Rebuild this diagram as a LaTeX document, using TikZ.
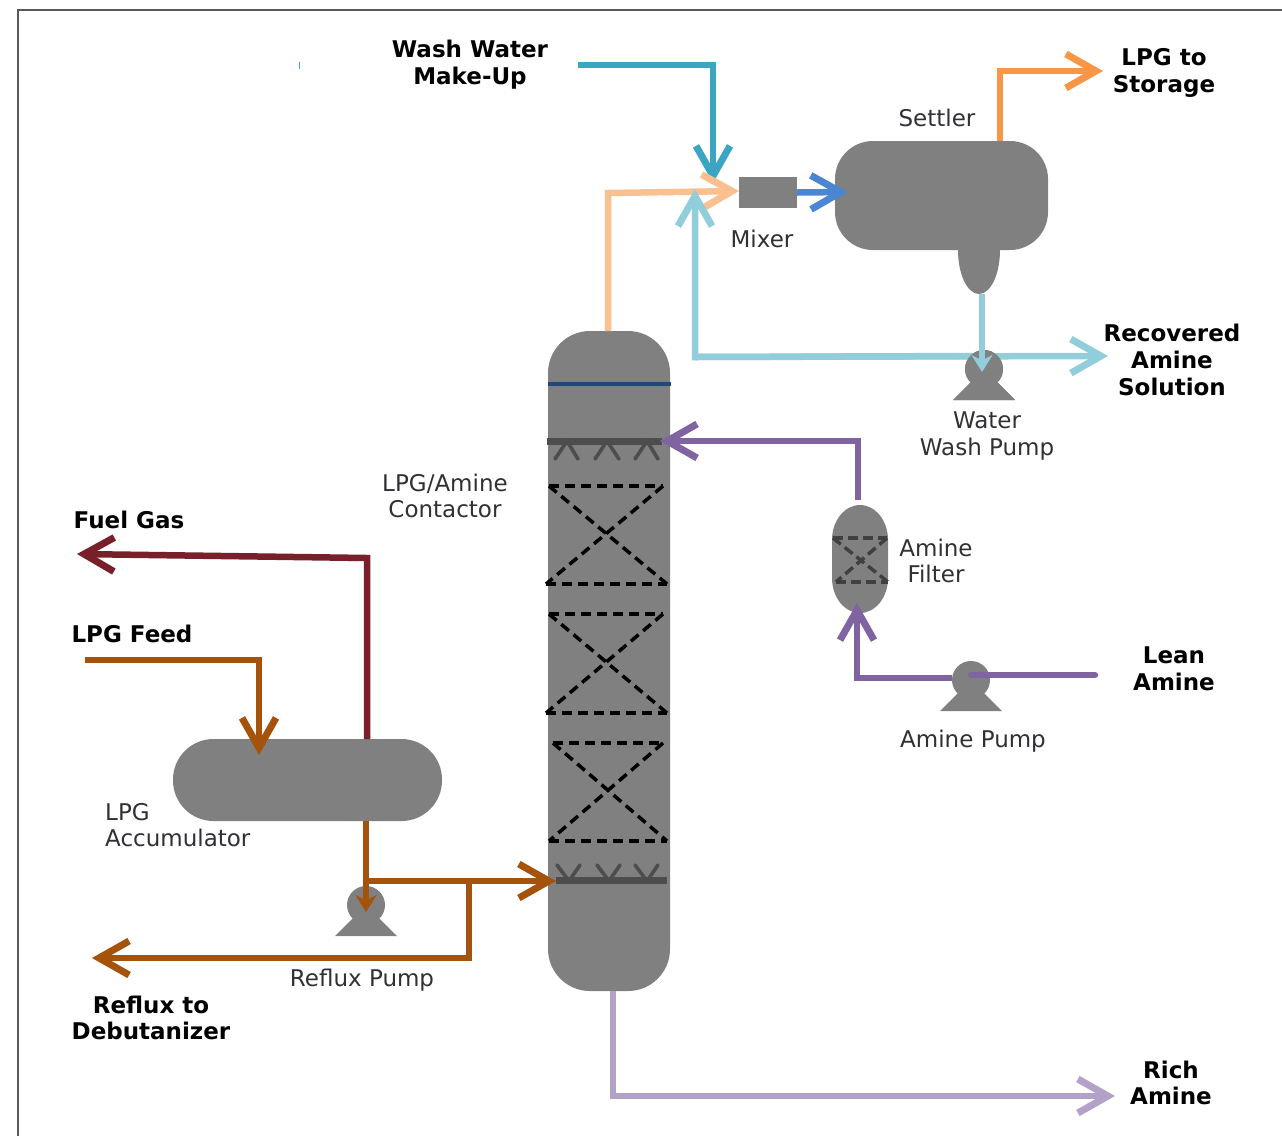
\documentclass[tikz,border=0pt]{standalone}
\usepackage{fontspec}
\setmainfont{DejaVu Sans}
\usetikzlibrary{arrows.meta,calc,shapes.geometric}
\definecolor{vesselgray}{HTML}{808080}
\definecolor{bargray}{HTML}{4D4D4D}
\definecolor{washc}{HTML}{3BA5C4}
\definecolor{peachc}{HTML}{FAC090}
\definecolor{skyc}{HTML}{92CDDC}
\definecolor{bluec}{HTML}{4A86D4}
\definecolor{orangec}{HTML}{F79646}
\definecolor{richc}{HTML}{B3A2C7}
\definecolor{leanc}{HTML}{8064A2}
\definecolor{fuelc}{HTML}{77202A}
\definecolor{feedc}{HTML}{A5520A}
\definecolor{labelc}{HTML}{303035}
\tikzset{
  vessel/.style={fill=vesselgray,draw=none,inner sep=0pt,outer sep=0pt},
  pipe/.style={line width=6.5pt,line join=miter,draw=#1},
  flow/.style={pipe=#1,-{Straight Barb[length=30pt,width=34pt,line width=7pt]}},
  solidflow/.style={pipe=#1,-{Stealth[length=17pt,width=21pt]}},
  eqlabel/.style={font=\fontsize{23}{26.5}\selectfont,text=labelc,align=center,inner sep=0pt},
  stream/.style={font=\fontsize{23}{26.8}\selectfont\bfseries,text=black,align=center,inner sep=0pt},
  packing/.style={dash pattern=on 10pt off 6pt,line width=3.5pt,black},
  bar/.style={line width=7pt,bargray},
  spray/.style={line width=3.6pt,bargray,line cap=round},
}
\newcommand{\pumpbase}[1]{%
  \fill[vesselgray] ($(#1.center)+(-8,8)$) -- ($(#1.center)+(8,8)$) -- ($(#1.center)+(31,31)$) -- ($(#1.center)+(-31,31)$) -- cycle;
}
\newcommand{\pumpshape}[3]{% name, x, y of circle centre
  \node[vessel,circle,minimum size=38pt] (#1) at (#2,#3) {};
  \pumpbase{#1}
}
\newcommand{\xpack}[6]{% x tl, x tr, x bl, x br, y top, y bot
  \draw[packing] (#1,#5) -- (#2,#5);
  \draw[packing] (#2,#5) -- (#3,#6);
  \draw[packing] (#3,#6) -- (#4,#6);
  \draw[packing] (#1,#5) -- (#4,#6);
}
\begin{document}
\begin{tikzpicture}[x=1pt,y=-1pt]
\useasboundingbox (0,0) rectangle (1282,1136);
\fill[white] (0,0) rectangle (1282,1136);
\draw[line width=1.5pt,black!65] (18,1136) -- (18,10) -- (1282,10);
\fill[washc] (298.5,62) rectangle (300,69);

% equipment
\node[vessel,rectangle,rounded corners=42pt,minimum width=122pt,minimum height=660pt] (col) at (609,661) {};
\node[vessel,rectangle,rounded corners=38pt,minimum width=213pt,minimum height=109pt] (settler) at (941.5,195.5) {};
\node[vessel,ellipse,minimum width=42pt,minimum height=88pt] (boot) at (979,250) {};
\node[vessel,rectangle,minimum width=58pt,minimum height=31pt] (mixer) at (768,192.5) {};
\node[vessel,rectangle,rounded corners=40.5pt,minimum width=269pt,minimum height=82pt] (accum) at (307.5,780) {};
\node[inner sep=0pt,outer sep=0pt,rectangle,minimum width=56pt,minimum height=108pt] (filter) at (860,559) {};
\fill[vesselgray] (832,540) arc[start angle=180,end angle=0,x radius=28pt,y radius=35pt] -- (888,578) arc[start angle=0,end angle=-180,x radius=28pt,y radius=35pt] -- cycle;
\pumpshape{rpump}{366}{905}
\pumpshape{apump}{971}{680}
\pumpshape{wpump}{984}{369}

% column internals
\draw[line width=3.5pt,draw={rgb,255:red,31;green,73;blue,125}] (col.west |- 0,384) -- (671,384);
\foreach \a/\b/\c in {555/567/578,595/607/619,635/647/658}{
  \draw[spray] (\a,459) -- (\b,441) -- (\c,459);
}
\draw[bar] (547,441) -- (662,441);
\xpack{549}{663}{546}{667}{486}{584}
\xpack{549}{663}{546}{667}{614}{713}
\xpack{553}{663}{549}{667}{743}{841}
\foreach \a/\b/\c in {557/569/580,597/609/620,635/647/658}{
  \draw[spray] (\a,865) -- (\b,881) -- (\c,865);
}
\draw[bar] (556,880.5) -- (667,880.5);
% filter internals
\begin{scope}[dash pattern=on 10pt off 5pt,line width=3.5pt,black!75]
\draw (833,538) -- (887,538);
\draw (887,538) -- (836,582);
\draw (836,582) -- (888,582);
\draw (833,538) -- (888,582);
\end{scope}

% named free ends
\coordinate (washin) at (578,65);
\coordinate (washend) at (713,183);
\coordinate (peachmid) at (608,193);
\coordinate (peachend) at (739,191);
\coordinate (skytop) at (695,189);
\coordinate (skycorner) at (695,357);
\coordinate (recout) at (1108,356);
\coordinate (wpumpend) at (982,372);
\coordinate (lpgout) at (1103,71);
\coordinate (settlerin) at (848,192);
\coordinate (richcorner) at (613,1096);
\coordinate (richout) at (1115,1096);
\coordinate (leanin) at (1095,675);
\coordinate (filterin) at (857,603);
\coordinate (sprayin) at (660,441);
\coordinate (fueltop) at (367,558);
\coordinate (fuelout) at (77,554);
\coordinate (feedin) at (85,660);
\coordinate (feedend) at (259,755);
\coordinate (refluxtee) at (469,881);
\coordinate (refluxout) at (92,958);
\coordinate (colfeed) at (556,881);
\coordinate (rpumpend) at (366,912);

% connectors
\draw[flow=washc] (washin) -| (washend);
\draw[flow=peachc] (col.north -| peachmid) -- (peachmid) -- (peachend);
\draw[flow=skyc] (recout -| wpump) -- (skycorner) -- (skytop);
\draw[flow=skyc] (skycorner) -- (recout);
\fill[vesselgray] (wpump) circle (19pt);
\pumpbase{wpump}
\draw[solidflow=skyc] (boot.south -| wpumpend) -- (wpumpend);
\draw[flow=bluec] (mixer.east) -- (settlerin);
\draw[flow=orangec] (settler.north -| 1000,0) |- (lpgout);
\draw[flow=richc] (col.south -| richcorner) -- (richcorner) -- (richout);
\draw[flow=leanc] (apump.west |- 0,678) -| (filterin);
\draw[pipe=leanc,line cap=round] (leanin) -- (leanin -| apump);
\draw[flow=leanc] (filter.north -| 858,0) ++(0,-5) |- (sprayin);
\draw[flow=fuelc] (accum.north -| fueltop) -- (fueltop) -- (fuelout);
\draw[flow=feedc] (feedin) -| (feedend);
\draw[solidflow=feedc] (accum.south -| rpumpend) -- (rpumpend);
\draw[flow=feedc] (rpumpend |- refluxtee) -- (colfeed);
\draw[flow=feedc] (refluxtee) |- (refluxout);

% labels
\node[stream] (t1) at (470,65) {Wash Water\\Make-Up};
\node[stream] (t2) at (1164,73) {LPG to\\Storage};
\node[stream] (t3) at (1172,360) {Recovered\\Amine\\Solution};
\node[stream] (t4) at (129,520) {Fuel Gas};
\node[stream] (t5) at (132,634) {LPG Feed};
\node[stream] (t6) at (1174,669) {Lean\\Amine};
\node[stream] (t7) at (151,1018) {Reflux to\\Debutanizer};
\node[stream] (t8) at (1171,1083) {Rich\\Amine};
\node[eqlabel] (e1) at (937,118) {Settler};
\node[eqlabel] (e2) at (762,239) {Mixer};
\node[eqlabel] (e3) at (987,436) {Water\\Wash Pump};
\node[eqlabel] (e4) at (445,496) {LPG/Amine\\Contactor};
\node[eqlabel] (e5) at (936,561) {Amine\\Filter};
\node[eqlabel] (e6) at (973,741) {Amine Pump};
\node[eqlabel,align=left,anchor=west] (e7) at (105,825) {LPG\\Accumulator};
\node[eqlabel] (e8) at (362,980) {Reflux Pump};
\end{tikzpicture}
\end{document}
